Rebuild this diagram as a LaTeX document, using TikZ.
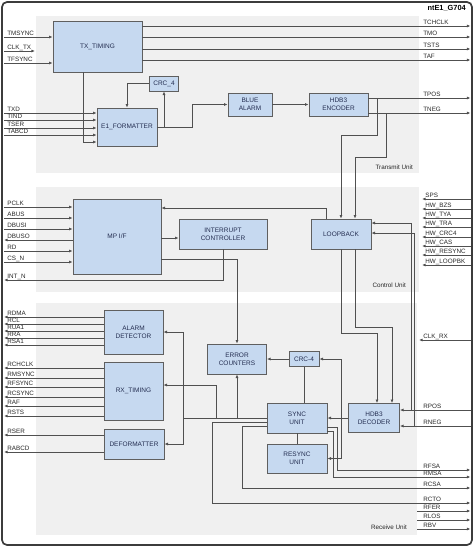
\documentclass[tikz,border=0pt]{standalone}
\usepackage{fontspec}
\setmainfont{Liberation Sans}
\usetikzlibrary{arrows.meta}
\definecolor{blkfill}{RGB}{198,217,240}
\definecolor{blkline}{RGB}{95,95,95}
\definecolor{wirecol}{RGB}{80,80,80}
\definecolor{unitfill}{RGB}{240,240,240}
\definecolor{blktext}{RGB}{35,45,80}
\definecolor{framecol}{RGB}{60,60,60}

\begin{document}
\begin{tikzpicture}[x=1pt,y=-1pt,
  blk/.style={draw=blkline,fill=blkfill,line width=0.8pt,inner sep=0pt,align=center,
    font=\fontsize{6.5}{8}\selectfont,text=blktext},
  wire/.style={draw=wirecol,line width=0.75pt},
  sig/.style={wire,-{Latex[length=3.6pt,width=3pt]}},
  lbl/.style={anchor=base west,inner sep=0pt,yshift=1.8pt,font=\fontsize{6.3}{7}\selectfont,text=black!85},
  unitlbl/.style={anchor=east,inner sep=0pt,font=\fontsize{6.3}{7}\selectfont,text=black!85}]
  \useasboundingbox (0,0) rectangle (474,547);

  % Drawing the three units
  \fill[unitfill] (36,16) rectangle (419,173);
  \fill[unitfill] (36,187) rectangle (419,292);
  \fill[unitfill] (36,303) rectangle (417,535);
  \node[unitlbl] at (413,167) {Transmit Unit};
  \node[unitlbl] at (406,285) {Control Unit};
  \node[unitlbl] at (407,527) {Receive Unit};

  % Drawing outer frame and title
  \draw[framecol,line width=1.7pt,rounded corners=5pt] (2,2) rectangle (472,545);
  \node[anchor=east,inner sep=0pt,font=\bfseries\fontsize{7.4}{8}\selectfont] at (466,8) {ntE1\_G704};

  % Drawing blocks of the transmit unit
  \node[blk,minimum width=89,minimum height=51] (txtiming) at (97.5,46.5) {TX\_TIMING};
  \node[blk,minimum width=29,minimum height=15] (crctx) at (164,83.5) {CRC\_4};
  \node[blk,minimum width=60,minimum height=38] (formatter) at (127,127) {E1\_FORMATTER};
  \node[blk,minimum width=44,minimum height=23] (bluealarm) at (250,104.5) {BLUE\\ALARM};
  \node[blk,minimum width=59,minimum height=23] (encoder) at (338.5,104.5) {HDB3\\ENCODER};

  % Drawing blocks of the control unit
  \node[blk,minimum width=88,minimum height=75] (mpif) at (117,236.5) {MP I/F};
  \node[blk,minimum width=88,minimum height=30] (intctrl) at (223,234) {INTERRUPT\\CONTROLLER};
  \node[blk,minimum width=60,minimum height=30] (loopback) at (341,234) {LOOPBACK};

  % Drawing blocks of the receive unit
  \node[blk,minimum width=59,minimum height=44] (alarmdet) at (133.5,332) {ALARM\\DETECTOR};
  \node[blk,minimum width=59,minimum height=58] (rxtiming) at (133.5,391) {RX\_TIMING};
  \node[blk,minimum width=60,minimum height=30] (deformatter) at (134,444) {DEFORMATTER};
  \node[blk,minimum width=59,minimum height=30] (errcnt) at (237,359) {ERROR\\COUNTERS};
  \node[blk,minimum width=30,minimum height=15] (crcrx) at (304,359) {CRC-4};
  \node[blk,minimum width=60,minimum height=30] (syncunit) at (297,418) {SYNC\\UNIT};
  \node[blk,minimum width=60,minimum height=29] (resync) at (297,458.5) {RESYNC\\UNIT};
  \node[blk,minimum width=51,minimum height=29] (decoder) at (374,418) {HDB3\\DECODER};

  % Transmit inputs
  \coordinate (tmsync) at (4,37);
  \coordinate (clktx) at (4,51);
  \coordinate (clktxend) at (35,51);
  \coordinate (tfsync) at (4,63);
  \draw[sig] (tmsync) node[lbl,xshift=3pt] {TMSYNC} -- (txtiming.west |- tmsync);
  \draw[sig] (clktx) node[lbl,xshift=3pt] {CLK\_TX} -- (clktxend);
  \draw[sig] (tfsync) node[lbl,xshift=3pt] {TFSYNC} -- (txtiming.west |- tfsync);
  \foreach \nm/\yy in {TXD/113, TIND/120, TSER/128, TABCD/135}{
    \coordinate (in\yy) at (4,\yy);
    \draw[sig] (in\yy) node[lbl,xshift=3pt] {\nm} -- (formatter.west |- in\yy);
  }

  % Transmit outputs
  \foreach \nm/\yy in {TCHCLK/26, TMO/37, TSTS/49, TAF/60}{
    \coordinate (tx\yy) at (470.5,\yy);
    \draw[sig] (txtiming.east |- tx\yy) -- (tx\yy) node[lbl,xshift=-47.5pt] {\nm};
  }
  \coordinate (tpos) at (470.5,98);
  \coordinate (tneg) at (470.5,113);
  \draw[sig] (encoder.east |- tpos) -- (tpos) node[lbl,xshift=-47.5pt] {TPOS};
  \draw[sig] (encoder.east |- tneg) -- (tneg) node[lbl,xshift=-47.5pt] {TNEG};

  % Transmit internal paths
  \coordinate (fout) at (164,127);
  \draw[sig] ([xshift=-14.5pt]txtiming.south) |- ([yshift=-15pt]formatter.west);
  \draw[wire] (formatter.east) -- (fout);
  \draw[sig] (fout) -- (crctx.south);
  \draw[sig] (crctx.west) -| (formatter.north);
  \draw[sig] (fout) -- (192,127) |- (bluealarm.west);
  \draw[sig] (bluealarm.east) -- (encoder.west);
  \draw[sig] (377,98) -- (377,135) -| (loopback.north);
  \draw[sig] (386,113) -- (386,157) -| ([xshift=14pt]loopback.north);

  % Control inputs and outputs
  \foreach \nm/\yy in {PCLK/207, ABUS/218, DBUSI/229, RD/251, CS\_N/262}{
    \coordinate (mp\yy) at (4,\yy);
    \draw[sig] (mp\yy) node[lbl,xshift=3pt] {\nm} -- (mpif.west |- mp\yy);
  }
  \coordinate (dbuso) at (4,240);
  \coordinate (intn) at (4,280);
  \draw[sig] (mpif.west |- dbuso) -- (dbuso) node[lbl,xshift=3pt] {DBUSO};
  \draw[sig] (intctrl.south) |- (intn) node[lbl,xshift=3pt] {INT\_N};
  \foreach \nm/\yy in {SPS/199, HW\_BZS/209, HW\_TYA/218, HW\_TRA/227, HW\_CRC4/237, HW\_CAS/246, HW\_RESYNC/255, HW\_LOOPBK/265}{
    \coordinate (hw\yy) at (471,\yy);
    \draw[sig] (hw\yy) -- (422,\yy) node[lbl,xshift=3pt] {\nm};
  }

  % Control internal paths
  \draw[sig] ([yshift=-1.5pt]mpif.east) -- ([yshift=-4pt]intctrl.west);
  \draw[sig] ([xshift=-15pt]loopback.north) |- ([yshift=28.5pt]mpif.east);
  \draw[sig] ([yshift=-22.5pt]mpif.east) -| (errcnt.north);
  \draw[sig] (loopback.south) -- (341,333) -| ([xshift=3pt]decoder.north);
  \draw[sig] ([xshift=14pt]loopback.south) -- (355,327) -| ([xshift=18pt]decoder.north);

  % Receive inputs
  \coordinate (clkrx) at (471,340);
  \coordinate (clkrxend) at (419,340);
  \coordinate (rpos) at (471,410);
  \coordinate (rneg) at (471,426);
  \draw[sig] (clkrx) node[lbl,xshift=-48pt] {CLK\_RX} -- (clkrxend);
  \draw[sig] (rpos) node[lbl,xshift=-48pt] {RPOS} -- (decoder.east |- rpos);
  \draw[sig] (rneg) node[lbl,xshift=-48pt] {RNEG} -- (decoder.east |- rneg);
  \draw[sig] (411,410) |- ([yshift=11pt]loopback.east);
  \draw[sig] (414,426) |- ([yshift=1pt]loopback.east);

  % Receive outputs on the left
  \foreach \nm/\yy in {RDMA/317, RCL/324, RUA1/331, RRA/338, RSA1/345}{
    \coordinate (ad\yy) at (4,\yy);
    \draw[sig] (alarmdet.west |- ad\yy) -- (ad\yy) node[lbl,xshift=3pt] {\nm};
  }
  \foreach \nm/\yy in {RCHCLK/368, RMSYNC/378, RFSYNC/387, RCSYNC/397, RAF/406, RSTS/416}{
    \coordinate (rt\yy) at (4,\yy);
    \draw[sig] (rxtiming.west |- rt\yy) -- (rt\yy) node[lbl,xshift=3pt] {\nm};
  }
  \foreach \nm/\yy in {RSER/435, RABCD/452}{
    \coordinate (df\yy) at (4,\yy);
    \draw[sig] (deformatter.west |- df\yy) -- (df\yy) node[lbl,xshift=3pt] {\nm};
  }

  % Receive internal paths
  \coordinate (bus) at (183,418);
  \draw[wire] (syncunit.west) -- (bus);
  \draw[sig] (bus) |- (alarmdet.east);
  \draw[sig] (bus) |- (deformatter.east);
  \draw[sig] (216,418) |- ([yshift=6pt]rxtiming.east);
  \draw[sig] (237,418) -- (errcnt.south);
  \draw[sig] (crcrx.west) -- (errcnt.east);
  \draw[wire] (crcrx.south) -- (crcrx.south |- syncunit.north);
  \draw[wire] (syncunit.south) -- (resync.north);
  \draw[sig] (decoder.west) -- (syncunit.east);
  \draw[wire,{Latex[length=3.6pt,width=3pt]}-{Latex[length=3.6pt,width=3pt]}] (crcrx.east) -| ([xshift=14pt]resync.east) -- (resync.east);

  % Receive outputs on the right
  \coordinate (rfsa) at (470.5,470);
  \coordinate (rmsa) at (470.5,477);
  \coordinate (rcsa) at (470.5,488);
  \coordinate (rcto) at (470.5,503);
  \draw[sig] ([yshift=-9pt]syncunit.east) -| (337,470) -- (rfsa) node[lbl,xshift=-47.5pt] {RFSA};
  \draw[sig] ([yshift=-13pt]syncunit.east) -| (333,477) -- (rmsa) node[lbl,xshift=-47.5pt] {RMSA};
  \draw[sig] ([yshift=-8pt]syncunit.west) -| (242,488) -- (rcsa) node[lbl,xshift=-47.5pt] {RCSA};
  \draw[sig] ([yshift=-4pt]syncunit.west) -| (212,503) -- (rcto) node[lbl,xshift=-47.5pt] {RCTO};
  \foreach \nm/\yy in {RFER/511, RLOS/520, RBV/529}{
    \coordinate (rx\yy) at (470.5,\yy);
    \draw[sig] (417,\yy) node[lbl,xshift=6pt] {\nm} -- (rx\yy);
  }
\end{tikzpicture}
\end{document}
